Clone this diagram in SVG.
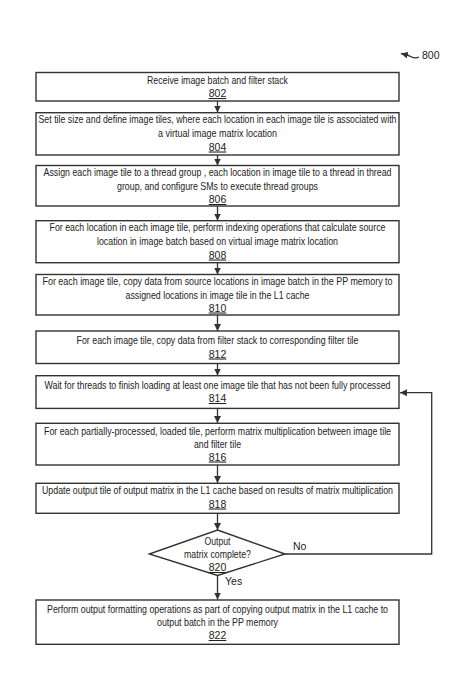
<svg xmlns="http://www.w3.org/2000/svg" width="474" height="685" viewBox="0 0 474 685">
<defs>
<style>
.box{fill:#fff;stroke:#333;stroke-width:1.4}
.t{font-family:"Liberation Sans",Arial,sans-serif;font-size:10.5px;fill:#222;text-anchor:middle}
.n{text-decoration:underline}
.c{fill:none;stroke:#333;stroke-width:1.3}
</style>
<marker id="ah" viewBox="0 0 10 10" refX="10" refY="5" markerWidth="7" markerHeight="7" markerUnits="userSpaceOnUse" orient="auto">
<path d="M0,0 L10,5 L0,10 z" fill="#333"/>
</marker>
</defs>
<rect width="474" height="685" fill="#fff"/>
<g id="label800">
<path d="M419,57 C414,60 411,56 407,55 C405,54 403,54 401,53.5" class="c" marker-end="url(#ah)"/>
<text x="422" y="59" class="t" style="text-anchor:start">800</text>
</g>
<g id="connectors">
<line x1="217.5" y1="101" x2="217.5" y2="112.5" class="c" marker-end="url(#ah)"/>
<line x1="217.5" y1="155" x2="217.5" y2="165.5" class="c" marker-end="url(#ah)"/>
<line x1="217.5" y1="206" x2="217.5" y2="220.5" class="c" marker-end="url(#ah)"/>
<line x1="217.5" y1="263" x2="217.5" y2="274.5" class="c" marker-end="url(#ah)"/>
<line x1="217.5" y1="315" x2="217.5" y2="331" class="c" marker-end="url(#ah)"/>
<line x1="217.5" y1="363.5" x2="217.5" y2="375.5" class="c" marker-end="url(#ah)"/>
<line x1="217.5" y1="408.5" x2="217.5" y2="423" class="c" marker-end="url(#ah)"/>
<line x1="217.5" y1="465" x2="217.5" y2="483" class="c" marker-end="url(#ah)"/>
<line x1="217.5" y1="513.5" x2="217.5" y2="530" class="c" marker-end="url(#ah)"/>
<line x1="217.5" y1="575" x2="217.5" y2="599.5" class="c" marker-end="url(#ah)"/>
<path d="M285,554 H431.7 V392.7 H400" class="c" marker-end="url(#ah)"/>
<text x="293" y="550" class="t" style="text-anchor:start">No</text>
<text x="225" y="585" class="t" style="text-anchor:start">Yes</text>
</g>
<g id="n802">
<rect x="36" y="72.5" width="363" height="28.5" class="box"/>
<text x="217.5" y="84" class="t" textLength="141" lengthAdjust="spacingAndGlyphs">Receive image batch and filter stack</text>
<text x="217.5" y="97" class="t n">802</text>
</g>
<g id="n804">
<rect x="36" y="112.7" width="363" height="42.3" class="box"/>
<text x="217.5" y="123" class="t" textLength="358" lengthAdjust="spacingAndGlyphs">Set tile size and define image tiles, where each location in each image tile is associated with</text>
<text x="217.5" y="137" class="t" textLength="119" lengthAdjust="spacingAndGlyphs">a virtual image matrix location</text>
<text x="217.5" y="150.5" class="t n">804</text>
</g>
<g id="n806">
<rect x="36" y="165.5" width="363" height="40.5" class="box"/>
<text x="217.5" y="176" class="t" textLength="348" lengthAdjust="spacingAndGlyphs">Assign each image tile to a thread group , each location in image tile to a thread in thread</text>
<text x="217.5" y="189.5" class="t" textLength="201" lengthAdjust="spacingAndGlyphs">group, and configure SMs to execute thread groups</text>
<text x="217.5" y="203" class="t n">806</text>
</g>
<g id="n808">
<rect x="36" y="220.7" width="363" height="42" class="box"/>
<text x="217.5" y="231" class="t" textLength="336" lengthAdjust="spacingAndGlyphs">For each location in each image tile, perform indexing operations that calculate source</text>
<text x="217.5" y="245" class="t" textLength="241" lengthAdjust="spacingAndGlyphs">location in image batch based on virtual image matrix location</text>
<text x="217.5" y="258.5" class="t n">808</text>
</g>
<g id="n810">
<rect x="36" y="274.5" width="363" height="40.5" class="box"/>
<text x="217.5" y="285" class="t" textLength="350" lengthAdjust="spacingAndGlyphs">For each image tile, copy data from source locations in image batch in the PP memory  to</text>
<text x="217.5" y="298.5" class="t" textLength="184" lengthAdjust="spacingAndGlyphs">assigned locations in image tile in the L1 cache</text>
<text x="217.5" y="311.5" class="t n">810</text>
</g>
<g id="n812">
<rect x="36" y="331" width="363" height="32.5" class="box"/>
<text x="217.5" y="344" class="t" textLength="282" lengthAdjust="spacingAndGlyphs">For each image tile, copy data from filter stack to corresponding filter tile</text>
<text x="217.5" y="357.5" class="t n">812</text>
</g>
<g id="n814">
<rect x="36" y="375.7" width="363" height="32.7" class="box"/>
<text x="217.5" y="389" class="t" textLength="346" lengthAdjust="spacingAndGlyphs">Wait for threads to finish loading at least one image tile that has not been fully processed</text>
<text x="217.5" y="402" class="t n">814</text>
</g>
<g id="n816">
<rect x="36" y="423.3" width="363" height="41.7" class="box"/>
<text x="217.5" y="434.5" class="t" textLength="347" lengthAdjust="spacingAndGlyphs">For each partially-processed, loaded tile, perform matrix multiplication between image tile</text>
<text x="217.5" y="447.5" class="t" textLength="47" lengthAdjust="spacingAndGlyphs">and filter tile</text>
<text x="217.5" y="460.5" class="t n">816</text>
</g>
<g id="n818">
<rect x="36" y="483.3" width="363" height="30" class="box"/>
<text x="217.5" y="494" class="t" textLength="351" lengthAdjust="spacingAndGlyphs">Update output tile of output matrix in the L1 cache based on results of matrix multiplication</text>
<text x="217.5" y="507.5" class="t n">818</text>
</g>
<g id="n820">
<polygon points="217.5,530 285,554 217.5,575.5 149.3,554" class="box"/>
<text x="217.5" y="544.5" class="t" textLength="26" lengthAdjust="spacingAndGlyphs">Output</text>
<text x="217.5" y="557.5" class="t" textLength="67" lengthAdjust="spacingAndGlyphs">matrix complete?</text>
<text x="217.5" y="571" class="t n">820</text>
</g>
<g id="n822">
<rect x="36" y="600" width="363" height="44.3" class="box"/>
<text x="217.5" y="612.5" class="t" textLength="341" lengthAdjust="spacingAndGlyphs">Perform output formatting operations as part of copying output matrix in the L1 cache to</text>
<text x="217.5" y="626" class="t" textLength="121" lengthAdjust="spacingAndGlyphs">output batch in the PP memory</text>
<text x="217.5" y="639" class="t n">822</text>
</g>
</svg>
